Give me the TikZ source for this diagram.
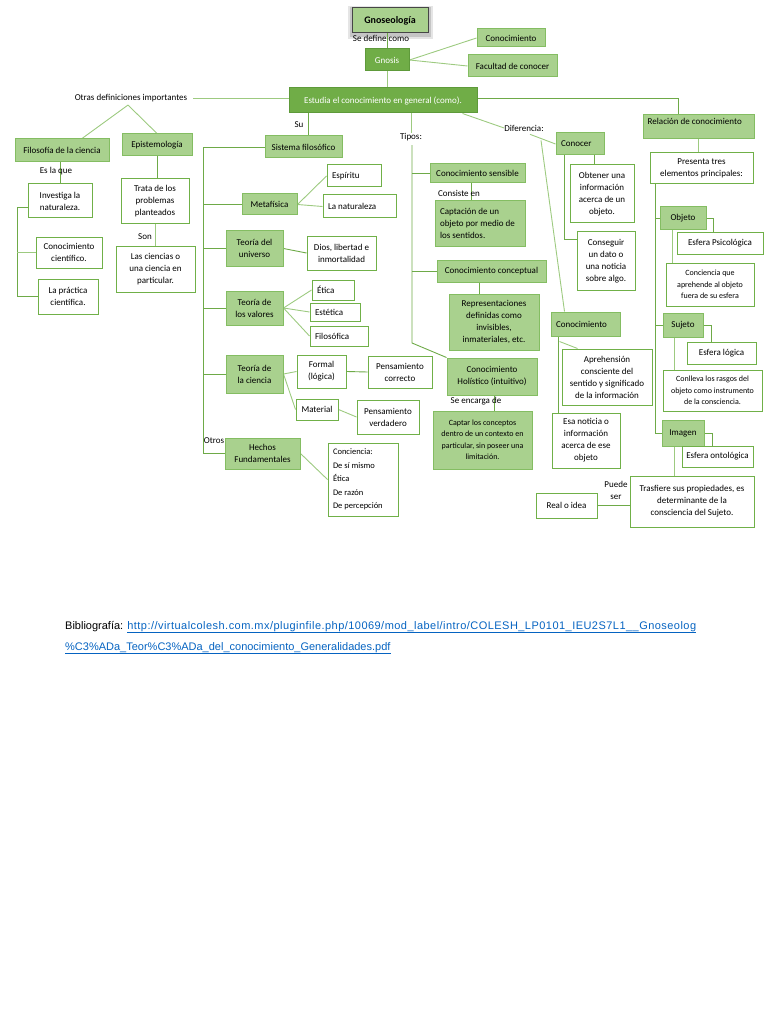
\documentclass[tikz,border=0pt]{standalone}
\usepackage{fontspec}
\setmainfont{Carlito}
\newfontfamily\arialfont{Liberation Sans}
\newfontfamily\arialspaced[LetterSpace=4.2]{Liberation Sans}
\usetikzlibrary{calc,backgrounds}
\definecolor{lgfill}{HTML}{A9D18E}
\definecolor{lgdraw}{HTML}{84BD62}
\definecolor{dgfill}{HTML}{70AD47}
\definecolor{dgdraw}{HTML}{5E9A3A}
\definecolor{wbdraw}{HTML}{70B048}
\definecolor{lnk}{HTML}{0563C1}
\definecolor{conncol}{HTML}{6EAA48}
\definecolor{lconncol}{HTML}{9DCA80}
\tikzset{
 base/.style={rectangle, inner xsep=2pt, inner ysep=1pt, font=\fontsize{9}{12}\selectfont, align=center},
 lg/.style={base, fill=lgfill, draw=lgdraw, line width=1pt},
 dg/.style={base, fill=dgfill, draw=dgdraw, line width=1pt, text=white},
 wb/.style={base, fill=white, draw=wbdraw, line width=1pt},
 sm/.style={font=\fontsize{8}{11.5}\selectfont},
 lft/.style={align=left, inner xsep=5pt, execute at begin node={\spaceskip=0pt\xspaceskip=0pt\relax}},
 lbl/.style={font=\fontsize{9}{12}\selectfont, inner sep=0pt, align=center},
 conn/.style={draw=conncol, line width=0.9pt},
 lconn/.style={draw=lconncol, line width=0.9pt},
}
\begin{document}
\begin{tikzpicture}[x=1pt,y=-1pt]
\useasboundingbox (0,0) rectangle (768,1024);

% ---- top
\node[lg, draw=gray!55!black, font=\bfseries\fontsize{10}{12}\selectfont, minimum width=76pt, minimum height=25pt] (gno) at (390,20.5) {Gnoseología};
\node[dg, minimum width=44pt, minimum height=22pt] (gnosis) at (387,60) {Gnosis};
\node[lg, minimum width=68pt, minimum height=18pt] (conoc1) at (511,38) {Conocimiento};
\node[lg, minimum width=89pt, minimum height=22pt] (facultad) at (512.5,66) {Facultad de conocer};
\node[dg, minimum width=188pt, minimum height=25pt] (estudia) at (383,100.5) {Estudia el conocimiento en general (como).};

% ---- left column
\node[lg, minimum width=94pt, minimum height=23pt] (filosofia) at (62,150.5) {Filosofía de la ciencia};
\node[lg, minimum width=70pt, minimum height=22pt] (epistem) at (157,145) {Epistemología};
\node[wb, minimum width=64pt, minimum height=34pt] (investiga) at (60,201) {Investiga la\\naturaleza.};
\node[wb, minimum width=66pt, minimum height=31pt] (concient) at (69,252.5) {Conocimiento\\científico.};
\node[wb, minimum width=60pt, minimum height=35pt] (practica) at (68,296.5) {La práctica\\científica.};
\node[wb, minimum width=68pt, minimum height=45pt] (trata) at (155,201.5) {Trata de los\\problemas\\planteados};
\node[wb, minimum width=79pt, minimum height=46pt] (ciencias) at (155.5,269) {Las ciencias o\\una ciencia en\\particular.};

% ---- sistema filosofico
\node[lg, minimum width=77pt, minimum height=22pt] (sistema) at (303.5,147) {Sistema filosófico};
\node[lg, minimum width=55pt, minimum height=21pt] (metafisica) at (269.5,204.5) {Metafísica};
\node[wb, lft, text width=44pt, minimum height=22pt] (espiritu) at (354,176) {Espíritu};
\node[wb, lft, text width=63pt, minimum height=23pt] (naturaleza) at (359.5,206.5) {La naturaleza};
\node[lg, minimum width=57pt, minimum height=35pt] (tuniverso) at (254.5,248.5) {Teoría del\\universo};
\node[wb, minimum width=69pt, minimum height=34pt] (dios) at (341.5,253) {Dios, libertad e\\inmortalidad};
\node[lg, minimum width=57pt, minimum height=34pt] (tvalores) at (254.5,308) {Teoría de\\los valores};
\node[wb, lft, text width=32pt, minimum height=20pt] (etica) at (333,290) {Ética};
\node[wb, lft, text width=40pt, minimum height=18pt] (estetica) at (335,312) {Estética};
\node[wb, lft, text width=48pt, minimum height=20pt] (filosofica) at (339,336) {Filosófica};
\node[lg, minimum width=57pt, minimum height=38pt] (tciencia) at (254.5,374) {Teoría de\\la ciencia};
\node[wb, minimum width=49pt, minimum height=33pt] (formal) at (321.5,371.5) {Formal\\(lógica)};
\node[wb, minimum width=64pt, minimum height=32pt] (pcorrecto) at (400,372) {Pensamiento\\correcto};
\node[wb, minimum width=42pt, minimum height=21pt] (material) at (317,409.5) {Material};
\node[wb, minimum width=62pt, minimum height=34pt] (pverdadero) at (388,417) {Pensamiento\\verdadero};
\node[lg, minimum width=75pt, minimum height=31pt] (hechos) at (262.5,453.5) {Hechos\\Fundamentales};
\node[wb, lft, text width=60pt, minimum height=73pt, font=\fontsize{8.5}{13.5}\selectfont] (concienciaB) at (363,479.5) {Conciencia:\\De sí mismo\\Ética\\De razón\\De percepción};

% ---- tipos
\node[lg, minimum width=95pt, minimum height=19pt] (sensible) at (477.5,173.5) {Conocimiento sensible};
\node[lg, lft, text width=80pt, minimum height=45pt] (captacion) at (480,223.5) {Captación de un\\objeto por medio de\\los sentidos.};
\node[lg, minimum width=109pt, minimum height=22pt] (conceptual) at (491.5,271) {Conocimiento conceptual};
\node[lg, minimum width=90pt, minimum height=56pt] (represent) at (494,322) {Representaciones\\definidas como\\invisibles,\\inmateriales, etc.};
\node[lg, minimum width=90pt, minimum height=37pt] (holistico) at (492,376.5) {Conocimiento\\Holístico (intuitivo)};
\node[lg, sm, minimum width=99pt, minimum height=58pt] (captar) at (482.5,440) {Captar los conceptos\\dentro de un contexto en\\particular, sin poseer una\\limitación.};

% ---- diferencia
\node[lg, lft, text width=38pt, minimum height=22pt] (conocer) at (580,144) {Conocer};
\node[wb, minimum width=64pt, minimum height=58pt] (obtener) at (602,194) {Obtener una\\información\\acerca de un\\objeto.};
\node[wb, minimum width=58pt, minimum height=58pt] (conseguir) at (606,261) {Conseguir\\un dato o\\una noticia\\sobre algo.};
\node[lg, lft, text width=59pt, minimum height=24pt] (conoc2) at (585.5,324) {Conocimiento};
\node[wb, minimum width=90pt, minimum height=56pt] (aprehension) at (607,377) {Aprehensión\\consciente del\\sentido y significado\\de la información};
\node[wb, minimum width=68pt, minimum height=55pt] (esanoticia) at (586,440.5) {Esa noticia o\\información\\acerca de ese\\objeto};

% ---- relacion
\node[lg, minimum width=111pt, minimum height=24pt, label={[lbl, anchor=north west, xshift=5pt, yshift=-4pt]north west:Relación de conocimiento}] (relacion) at (698.5,127) {};
\node[wb, minimum width=103pt, minimum height=31pt] (presenta) at (701.5,168.5) {Presenta tres\\elementos principales:};
\node[lg, minimum width=46pt, minimum height=23pt] (objeto) at (683,218.5) {Objeto};
\node[wb, minimum width=86pt, minimum height=21pt] (esfpsi) at (720,243.5) {Esfera Psicológica};
\node[wb, sm, minimum width=88pt, minimum height=43pt] (concque) at (710,284.5) {Conciencia que\\aprehende al objeto\\fuera de su esfera};
\node[lg, minimum width=40pt, minimum height=24pt] (sujeto) at (683,325) {Sujeto};
\node[wb, minimum width=69pt, minimum height=22pt] (esflog) at (721.5,353) {Esfera lógica};
\node[wb, sm, minimum width=99pt, minimum height=41pt] (conlleva) at (712.5,390.5) {Conlleva los rasgos del\\objeto como instrumento\\de la consciencia.};
\node[lg, minimum width=42pt, minimum height=26pt] (imagen) at (683,433) {Imagen};
\node[wb, minimum width=71pt, minimum height=21pt] (esfont) at (717.5,456.5) {Esfera ontológica};
\node[wb, minimum width=124pt, minimum height=51pt] (trasfiere) at (692,501.5) {Trasfiere sus propiedades, es\\determinante de la\\consciencia del Sujeto.};
\node[wb, minimum width=61pt, minimum height=25pt] (real) at (566.5,505.5) {Real o idea};

% ---- labels
\node[lbl] (sedef) at (381,38) {Se define como};
\node[lbl] (otras) at (131,98) {Otras definiciones importantes};
\node[lbl] (esla) at (56,171) {Es la que};
\node[lbl] (son) at (145,237) {Son};
\node[lbl] (su) at (299,125) {Su};
\node[lbl] (tipos) at (411,137) {Tipos:};
\node[lbl] (dif) at (524,128) {Diferencia:};
\node[lbl] (consiste) at (459,193) {Consiste en};
\node[lbl] (encarga) at (476,401) {Se encarga de};
\node[lbl] (otros) at (214,441) {Otros};
\node[lbl] (puede) at (616,490) {Puede\\ser};

% ---- bibliography
\node[anchor=base west, inner sep=0pt, font=\arialfont\fontsize{11}{13}\selectfont] (bib1) at (65,629) {Bibliografía: \textcolor{lnk}{\underline{\arialspaced http://virtualcolesh.com.mx/pluginfile.php/10069/mod\_label/intro/COLESH\_LP0101\_IEU2S7L1\_\_Gnoseolog}}};
\node[anchor=base west, inner sep=0pt, font=\arialfont\fontsize{11}{13}\selectfont] (bib2) at (65,650) {\textcolor{lnk}{\underline{\%C3\%ADa\_Teor\%C3\%ADa\_del\_conocimiento\_Generalidades.pdf}}};

% ---- helper coordinates
\coordinate (rtop) at ($(relacion.north)+(-20.5,0)$);
\coordinate (otrasE) at ($(otras.east)+(6,0)$);
\coordinate (otrasS) at ($(otras.south)+(-3,3)$);
\coordinate (filN) at ($(filosofia.north)+(20,0)$);
\coordinate (lb) at (17,0);
\coordinate (invW) at ($(investiga.west)+(0,6)$);
\coordinate (estSu) at ($(estudia.south)+(-75,0)$);
\coordinate (sv) at (203,0);
\coordinate (tv) at (412,343);
\coordinate (tipS) at ($(tipos.south)+(1,4)$);
\coordinate (sensS) at ($(sensible.south)+(-6,0)$);
\coordinate (concS) at ($(conceptual.south)+(-12.5,0)$);
\coordinate (holS) at ($(holistico.south)+(2,0)$);
\coordinate (estDif) at ($(estudia.south east)+(-15,0)$);
\coordinate (difA) at ($(dif.south)+(6,3)$);
\coordinate (difB) at ($(dif.south)+(17,9)$);
\coordinate (c2N) at ($(conoc2.north west)+(14,0)$);
\coordinate (cocSW) at ($(conocer.south west)+(9,0)$);
\coordinate (consW) at ($(conseguir.north west)+(0,8)$);
\coordinate (cocS) at ($(conocer.south)+(14,0)$);
\coordinate (c2S) at ($(conoc2.south west)+(8,0)$);
\coordinate (c2D) at ($(conoc2.south west)+(9,5)$);
\coordinate (aprN) at ($(aprehension.north west)+(16,0)$);
\coordinate (pv) at (655,0);
\coordinate (psiN) at ($(esfpsi.north west)+(37,0)$);
\coordinate (objS) at ($(objeto.south west)+(13,0)$);
\coordinate (logN) at ($(esflog.north west)+(25,0)$);
\coordinate (sujS) at ($(sujeto.south west)+(12,0)$);
\coordinate (ontN) at ($(esfont.north west)+(31,0)$);
\coordinate (imgS) at ($(imagen.south west)+(13,0)$);

\begin{scope}[on background layer]
 % shadow
 \fill[black, opacity=0.10] ($(gno.south west)+(-4,6)$) rectangle ($(gno.north east)+(4,-1)$);
 \fill[black, opacity=0.14] ($(gno.south west)+(-2,4)$) rectangle ($(gno.north east)+(2,0)$);
 % top
 \draw[conn] (gnosis.north |- gno.south) -- (gnosis.north);
 \draw[lconn] (gnosis.east) -- (conoc1.west);
 \draw[lconn] (gnosis.east) -- (facultad.west);
 \draw[lconn] (gnosis.south) -- (gnosis.south |- estudia.north);
 \draw[lconn] (estudia.west |- otras.east) -- (otrasE);
 \draw[conn] (estudia.east |- otras.east) -| (rtop);
 % left
 \draw[lconn] (otrasS) -- (filN);
 \draw[lconn] (otrasS) -- (epistem.north);
 \draw[conn] (investiga.north |- filosofia.south) -- (investiga.north);
 \draw[conn] (invW) -- (invW -| lb) -- (practica.west -| lb) -- (practica.west);
 \draw[lconn] (concient.west) -- (concient.west -| lb);
 \draw[conn] (epistem.south) -- (epistem.south |- trata.north);
 \draw[lconn] (trata.south) -- (trata.south |- ciencias.north);
 % sistema
 \draw[conn] (estSu) -- (estSu |- sistema.north);
 \draw[conn] (sistema.west) -- (sistema.west -| sv) -- (hechos.west -| sv) -- (hechos.west);
 \foreach \n in {metafisica,tuniverso,tvalores,tciencia} \draw[conn] (\n.west) -- (\n.west -| sv);
 \draw[lconn] (metafisica.east) -- (espiritu.west);
 \draw[lconn] (metafisica.east) -- (naturaleza.west);
 \draw[conn] (tuniverso.east) -- (dios.west);
 \draw[lconn] (tvalores.east) -- (etica.west);
 \draw[lconn] (tvalores.east) -- (estetica.west);
 \draw[lconn] (tvalores.east) -- (filosofica.west);
 \draw[lconn] (tciencia.east) -- (formal.west);
 \draw[lconn] (tciencia.east) -- (material.west);
 \draw[conn] (formal.east) -- (pcorrecto.west);
 \draw[lconn] (material.east) -- (pverdadero.west);
 \draw[lconn] (hechos.east) -- (concienciaB.west);
 % tipos
 \draw[lconn] (estudia.south -| tipos.north) -- (tipos.north);
 \draw[conn] (tipS -| tv) -- (tv) -- (holistico.north west);
 \draw[conn] (sensible.west) -- (sensible.west -| tv);
 \draw[conn] (conceptual.west) -- (conceptual.west -| tv);
 \draw[conn] (sensS) -- (sensS |- captacion.north);
 \draw[conn] (concS) -- (concS |- represent.north);
 \draw[conn] (holS) -- (holS |- captar.north);
 % diferencia
 \draw[lconn] (estDif) -- (dif.west);
 \draw[lconn] (difA) -- (conocer.west);
 \draw[lconn] (difB) -- (c2N);
 \draw[conn] (cocSW) -- (cocSW |- consW) -- (consW);
 \draw[conn] (cocS) -- (cocS |- obtener.north);
 \draw[conn] (c2S) -- (c2S |- esanoticia.north);
 \draw[lconn] (c2D) -- (aprN);
 % relacion
 \draw[lconn] (relacion.south) -- (relacion.south |- presenta.north);
 \draw[conn] (presenta.south -| pv) -- (imagen.west -| pv) -- (imagen.west);
 \draw[conn] (objeto.west) -- (objeto.west -| pv);
 \draw[conn] (sujeto.west) -- (sujeto.west -| pv);
 \draw[conn] (objeto.east) -| (psiN);
 \draw[lconn] (objS) -- (objS |- concque.north);
 \draw[conn] (sujeto.east) -| (logN);
 \draw[lconn] (sujS) -- (sujS |- conlleva.north);
 \draw[conn] (imagen.east) -| (ontN);
 \draw[lconn] (imgS) -- (imgS |- trasfiere.north);
 \draw[conn] (trasfiere.west |- real.east) -- (real.east);
\end{scope}
\end{tikzpicture}
\end{document}
